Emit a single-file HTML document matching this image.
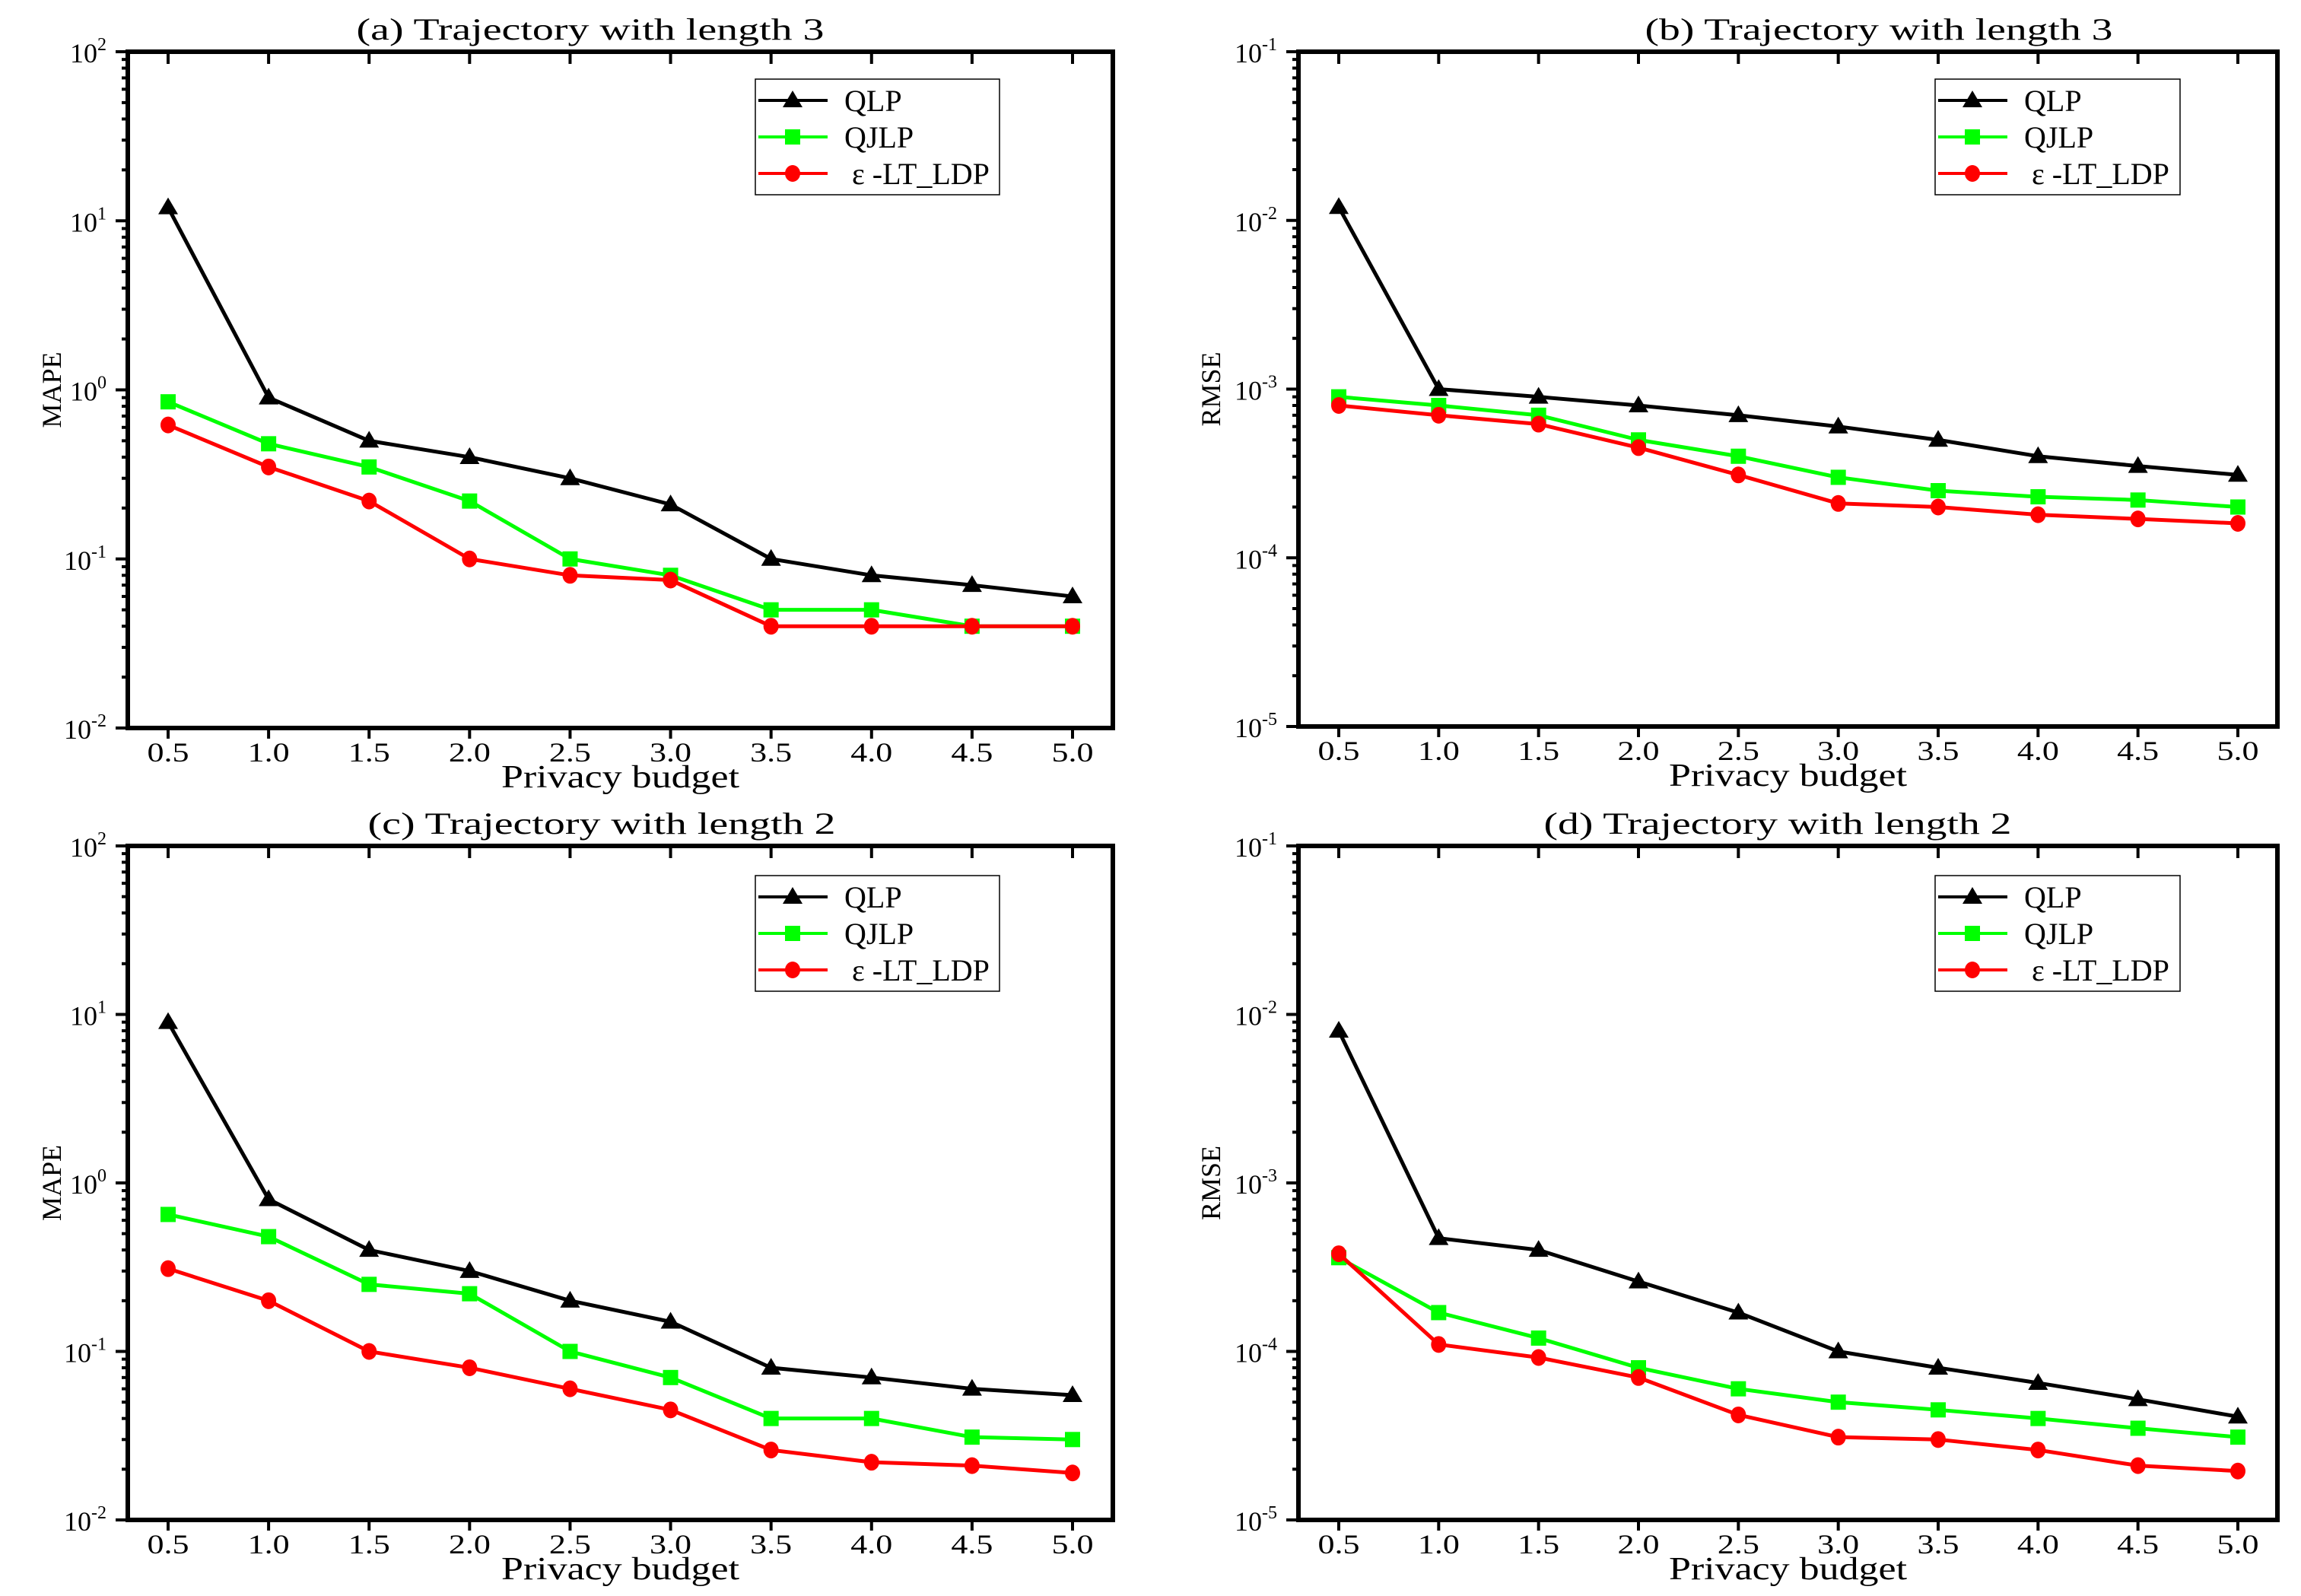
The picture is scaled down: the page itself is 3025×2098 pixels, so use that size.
<!DOCTYPE html>
<html><head><meta charset="utf-8"><style>
html,body{margin:0;padding:0;background:#fff}
svg{display:block}
text{font-family:"Liberation Serif","Noto Serif CJK SC",serif;fill:#000}
</style></head><body>
<svg id="fig" width="3025" height="2098" viewBox="0 0 3025 2098" xmlns="http://www.w3.org/2000/svg"></svg>
<script>
const categories = ["0.5","1.0","1.5","2.0","2.5","3.0","3.5","4.0","4.5","5.0"];
const xValues = [0.5,1,1.5,2,2.5,3,3.5,4,4.5,5];
const seriesNames = ["QLP","QJLP"," ε -LT_LDP"];
const aQLP = [12,0.9,0.5,0.4,0.3,0.21,0.1,0.08,0.07,0.06];
const aQJLP = [0.85,0.48,0.35,0.22,0.1,0.08,0.05,0.05,0.04,0.04];
const aLDP = [0.62,0.35,0.22,0.1,0.08,0.075,0.04,0.04,0.04,0.04];
const bQLP = [1.2e-2,1e-3,9e-4,8e-4,7e-4,6e-4,5e-4,4e-4,3.5e-4,3.1e-4];
const bQJLP = [9e-4,8e-4,7e-4,5e-4,4e-4,3e-4,2.5e-4,2.3e-4,2.2e-4,2e-4];
const bLDP = [8e-4,7e-4,6.2e-4,4.5e-4,3.1e-4,2.1e-4,2e-4,1.8e-4,1.7e-4,1.6e-4];
const cQLP = [9,0.8,0.4,0.3,0.2,0.15,0.08,0.07,0.06,0.055];
const cQJLP = [0.65,0.48,0.25,0.22,0.1,0.07,0.04,0.04,0.031,0.03];
const cLDP = [0.31,0.2,0.1,0.08,0.06,0.045,0.026,0.022,0.021,0.019];
const dQLP = [8e-3,4.7e-4,4e-4,2.6e-4,1.7e-4,1e-4,8e-5,6.5e-5,5.2e-5,4.1e-5];
const dQJLP = [3.6e-4,1.7e-4,1.2e-4,8e-5,6e-5,5e-5,4.5e-5,4e-5,3.5e-5,3.1e-5];
const dLDP = [3.8e-4,1.1e-4,9.2e-5,7e-5,4.2e-5,3.1e-5,3e-5,2.6e-5,2.1e-5,1.95e-5];
const titles = ["(a) Trajectory with length 3","(b) Trajectory with length 3","(c) Trajectory with length 2","(d) Trajectory with length 2"];
const yTitles = ["MAPE","RMSE","MAPE","RMSE"];
const yExpRanges = [[-2,2],[-5,-1],[-2,2],[-5,-1]];

const NS="http://www.w3.org/2000/svg";
const svg=document.getElementById('fig');
function mk(tag,attrs,parent){const e=document.createElementNS(NS,tag);for(const k in attrs)e.setAttribute(k,attrs[k]);(parent||svg).appendChild(e);return e;}

const panels=[
 {L:168,R:1463,T:68,B:957,x0:221,x1:1410,data:[aQLP,aQJLP,aLDP],leg:[993,104,321,152],tc:776,yl:100},
 {L:1707,R:2994,T:68,B:955,x0:1760,x1:2942,data:[bQLP,bQJLP,bLDP],leg:[2544,104,322,152],tc:2470,yl:115},
 {L:168,R:1463,T:1112,B:1998,x0:221,x1:1410,data:[cQLP,cQJLP,cLDP],leg:[993,1151,321,152],tc:791,yl:100},
 {L:1707,R:2994,T:1112,B:1998,x0:1760,x1:2942,data:[dQLP,dQJLP,dLDP],leg:[2544,1151,322,152],tc:2337,yl:115}
];
const colors=["#000000","#00ff00","#ff0000"];
const markers=["tri","sq","circ"];
const pnames=["a","b","c","d"];

function marker(g,type,cx,cy,col,nm){
 let e;
 if(type==="tri") e=mk('polygon',{points:`${cx},${cy-13} ${cx-13},${cy+9} ${cx+13},${cy+9}`,fill:col},g);
 else if(type==="sq") e=mk('rect',{x:cx-10,y:cy-10,width:20,height:20,fill:col},g);
 else e=mk('ellipse',{cx:cx,cy:cy,rx:10,ry:11,fill:col},g);
 
 
}

panels.forEach((p,pi)=>{
 const g=mk('g',{});
 
 
 const [e0,e1]=yExpRanges[pi];
 const xs=v=>p.x0+(v-0.5)/(4.5)*(p.x1-p.x0);
 const ys=v=>p.B-(Math.log10(v)-e0)/(e1-e0)*(p.B-p.T);
 const t=mk('text',{x:p.tc,y:p.T-16,'text-anchor':'middle','font-size':40,textLength:615,lengthAdjust:'spacingAndGlyphs'},g);
 t.textContent=titles[pi];
 
 
 for(let e=e0;e<=e1;e++){
  const y=ys(Math.pow(10,e));
  mk('line',{x1:p.L-16,x2:p.L,y1:y,y2:y,stroke:'#000','stroke-width':4},g);
  const lab=mk('text',{x:p.L-28,y:y+14,'text-anchor':'end','font-size':36},g);
  
  
  lab.appendChild(document.createTextNode('10'));
  const sp=document.createElementNS(NS,'tspan');sp.setAttribute('dy',-16);sp.setAttribute('font-size',24);sp.textContent=String(e);lab.appendChild(sp);
  if(e<e1){for(let m=2;m<=9;m++){const ym=ys(m*Math.pow(10,e));mk('line',{x1:p.L-8,x2:p.L,y1:ym,y2:ym,stroke:'#000','stroke-width':4},g);}}
 }
 xValues.forEach((v,i)=>{
  const x=xs(v);
  mk('line',{x1:x,x2:x,y1:p.T,y2:p.T+16,stroke:'#000','stroke-width':4},g);
  mk('line',{x1:x,x2:x,y1:p.B,y2:p.B+14,stroke:'#000','stroke-width':4},g);
  const lab=mk('text',{x:x,y:p.B+44,'text-anchor':'middle','font-size':36,textLength:55,lengthAdjust:'spacingAndGlyphs'},g);
  lab.textContent=categories[i];
  
  
 });
 const xt=mk('text',{x:(p.L+p.R)/2,y:p.B+78,'text-anchor':'middle','font-size':42,textLength:313,lengthAdjust:'spacingAndGlyphs'},g);
 xt.textContent="Privacy budget";
 
 
 const cy=(p.T+p.B)/2;
 const yt=mk('text',{x:0,y:0,'text-anchor':'middle','font-size':36,transform:`translate(${p.L-p.yl+12},${cy}) rotate(-90)`},g);
 yt.textContent=yTitles[pi];
 
 
 p.data.forEach((arr,si)=>{
  const sg=mk('g',{},g);
  
  
  const pts=arr.map((v,i)=>xs(xValues[i])+','+ys(v)).join(' ');
  mk('polyline',{points:pts,fill:'none',stroke:colors[si],'stroke-width':5,'stroke-linejoin':'round'},sg);
  arr.forEach((v,i)=>marker(sg,markers[si],xs(xValues[i]),ys(v),colors[si],'point-'+categories[i]));
 });
 const box=mk('rect',{x:p.L,y:p.T,width:p.R-p.L,height:p.B-p.T,fill:'none',stroke:'#000','stroke-width':6},g);
 
 
 const [lx,ly,lw,lh]=p.leg;
 const lg=mk('g',{},g);
 
 
 mk('rect',{x:lx,y:ly,width:lw,height:lh,fill:'#fff',stroke:'#000','stroke-width':1.5},lg);
 seriesNames.forEach((n,si)=>{
  const ey=ly+28+si*48;
  const eg=mk('g',{},lg);
  
  
  mk('line',{x1:lx+4,x2:lx+95,y1:ey,y2:ey,stroke:colors[si],'stroke-width':4},eg);
  marker(eg,markers[si],lx+49,ey,colors[si],'legend-marker');
  const tx=mk('text',{x:lx+117,y:ey+14,'font-size':40,'xml:space':'preserve'},eg);
  tx.setAttribute('style','white-space:pre');
  tx.textContent=n;
 });
});
</script>
</body></html>
